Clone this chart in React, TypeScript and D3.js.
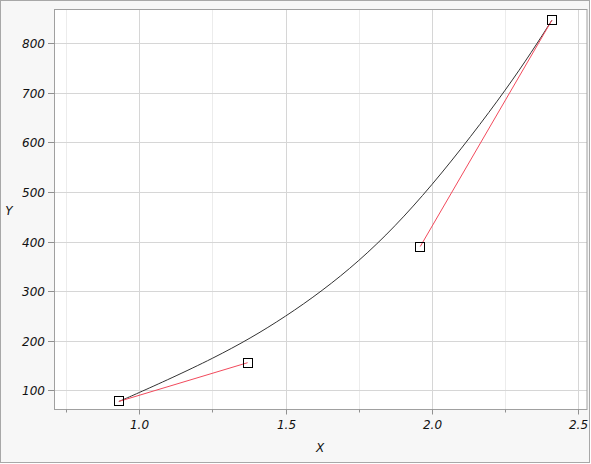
import React from 'react';
import * as d3 from 'd3';

// measured points (red segments join pairs)
const pointX = [0.93, 1.37, 1.96, 2.41];
const pointY = [78, 156, 390, 846];
const segments = [[0, 1], [2, 3]];

// fitted curve
const curveX = [0.93, 1.0, 1.25, 1.5, 1.75, 2.0, 2.25, 2.41];
const curveY = [78, 96, 165, 250, 362, 515, 705, 846];

const xTicks = [1.0, 1.5, 2.0, 2.5];
const xMinorTicks = [0.75, 1.25, 1.75, 2.25];
const yTicks = [100, 200, 300, 400, 500, 600, 700, 800];

const W = 591;
const H = 464;
const plot = { left: 54.5, top: 9.5, right: 587, bottom: 409.5 };
const font = '"DejaVu Sans", Verdana, sans-serif';

export default function App() {
  const x = d3.scaleLinear().domain([0.71, 2.53]).range([plot.left, plot.right]);
  const y = d3.scaleLinear().domain([61.7, 867.6]).range([plot.bottom, plot.top]);

  const line = d3.line<number>()
    .x((_, i) => x(curveX[i]))
    .y((d) => y(d))
    .curve(d3.curveNatural);

  return (
    <svg width={W} height={H} style={{ position: 'absolute', left: 0, top: 0 }}>
      <rect x={0.5} y={0.5} width={589} height={462} fill="#f7f7f7" stroke="#a8a8a8" />
      <rect x={plot.left} y={plot.top} width={plot.right - plot.left} height={plot.bottom - plot.top} fill="#fff" />

      {/* grid */}
      {xMinorTicks.map((t) => (
        <line key={'xm' + t} x1={Math.round(x(t)) + 0.5} x2={Math.round(x(t)) + 0.5} y1={plot.top} y2={plot.bottom} stroke="#ececec" />
      ))}
      {xTicks.map((t) => (
        <line key={'xg' + t} x1={Math.round(x(t)) + 0.5} x2={Math.round(x(t)) + 0.5} y1={plot.top} y2={plot.bottom} stroke="#d6d6d6" />
      ))}
      {yTicks.map((t) => (
        <line key={'yg' + t} x1={plot.left} x2={plot.right} y1={Math.round(y(t)) + 0.5} y2={Math.round(y(t)) + 0.5} stroke="#d6d6d6" />
      ))}

      <rect x={plot.left} y={plot.top} width={plot.right - plot.left} height={plot.bottom - plot.top} fill="none" stroke="#a0a0a0" />

      {/* y axis */}
      {yTicks.map((t) => (
        <g key={'yt' + t} transform={`translate(0,${Math.round(y(t)) + 0.5})`}>
          <line x1={48} x2={plot.left} stroke="#909090" />
          <text x={45} dy="0.35em" textAnchor="end" fontFamily={font} fontStyle="italic" fontSize={12} fill="#111">{t}</text>
        </g>
      ))}

      {/* x axis */}
      {xMinorTicks.map((t) => (
        <line key={'xmt' + t} x1={Math.round(x(t)) + 0.5} x2={Math.round(x(t)) + 0.5} y1={plot.bottom} y2={plot.bottom + 3} stroke="#909090" />
      ))}
      {xTicks.map((t) => (
        <g key={'xt' + t} transform={`translate(${Math.round(x(t)) + 0.5},0)`}>
          <line y1={plot.bottom} y2={plot.bottom + 5} stroke="#909090" />
          <text y={429} textAnchor="middle" fontFamily={font} fontStyle="italic" fontSize={12} fill="#111">{t.toFixed(1)}</text>
        </g>
      ))}

      <text x={320} y={452} textAnchor="middle" fontFamily={font} fontStyle="italic" fontSize={12} fill="#111">X</text>
      <text x={9} y={215} textAnchor="middle" fontFamily={font} fontStyle="italic" fontSize={12} fill="#111">Y</text>

      {/* curve */}
      <path d={line(curveY) ?? ''} fill="none" stroke="#333" strokeWidth={1} />

      {/* red segments */}
      {segments.map(([a, b]) => (
        <line key={'s' + a} x1={x(pointX[a])} y1={y(pointY[a])} x2={x(pointX[b])} y2={y(pointY[b])} stroke="#f24a5c" strokeWidth={1} />
      ))}

      {/* markers */}
      {pointX.map((px, i) => (
        <rect key={'p' + i} x={Math.round(x(px)) - 4.5} y={Math.round(y(pointY[i])) - 4.5} width={9} height={9} fill="none" stroke="#000" strokeWidth={1} />
      ))}
    </svg>
  );
}
